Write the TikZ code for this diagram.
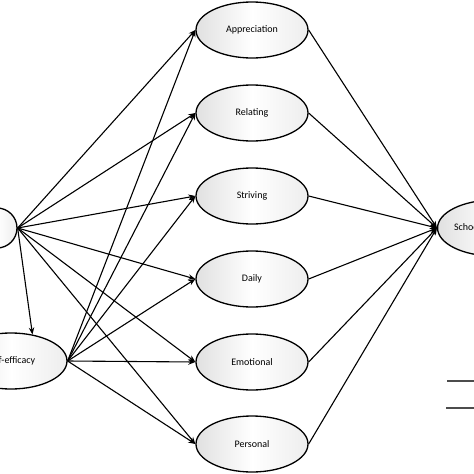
\documentclass[tikz,border=0pt]{standalone}
\usepackage{fontspec}
\setmainfont{Carlito}
\usetikzlibrary{shapes.geometric,arrows.meta}
\begin{document}
\begin{tikzpicture}[x=1pt,y=-1pt,
  latent/.style={ellipse,draw,line width=1.3pt,minimum width=112pt,minimum height=56pt,inner sep=0pt,
    left color=gray!24,right color=gray!14,middle color=white,font=\fontsize{10}{12}\selectfont},
  small/.style={latent,minimum width=40pt,minimum height=40pt},
  link/.style={line width=1.1pt,-{Stealth[length=7pt,width=5.5pt]}},
  legendline/.style={line width=1.4pt,draw=black!70}]
\useasboundingbox (0,0) rectangle (474,474);
\clip (0,0) rectangle (474,474);
\node[small] (G) at (-3,228) {};
\node[latent] (SE) at (11,361) {Self-efficacy};
\node[latent] (A) at (252,30) {Appreciation};
\node[latent] (R) at (252,113) {Relating};
\node[latent] (S) at (252,196) {Striving};
\node[latent] (D) at (252,279) {Daily};
\node[latent] (E) at (252,362) {Emotional};
\node[latent] (P) at (252,444) {Personal};
\node[latent] (SC) at (494,228) {School engagement};
\foreach \t in {A,R,S,D,E,P} {
  \draw[link] (G.east) -- (\t.west);
  \draw[link] (SE.east) -- (\t.west);
  \draw[link] (\t.east) -- (SC.west);
}
\draw[link] (G.east) -- (SE.51);
\coordinate (l1a) at (447,381);
\coordinate (l1b) at (474,381);
\coordinate (l2a) at (446,408);
\coordinate (l2b) at (474,408);
\draw[legendline] (l1a) -- (l1b);
\draw[legendline] (l2a) -- (l2b);
\end{tikzpicture}
\end{document}
